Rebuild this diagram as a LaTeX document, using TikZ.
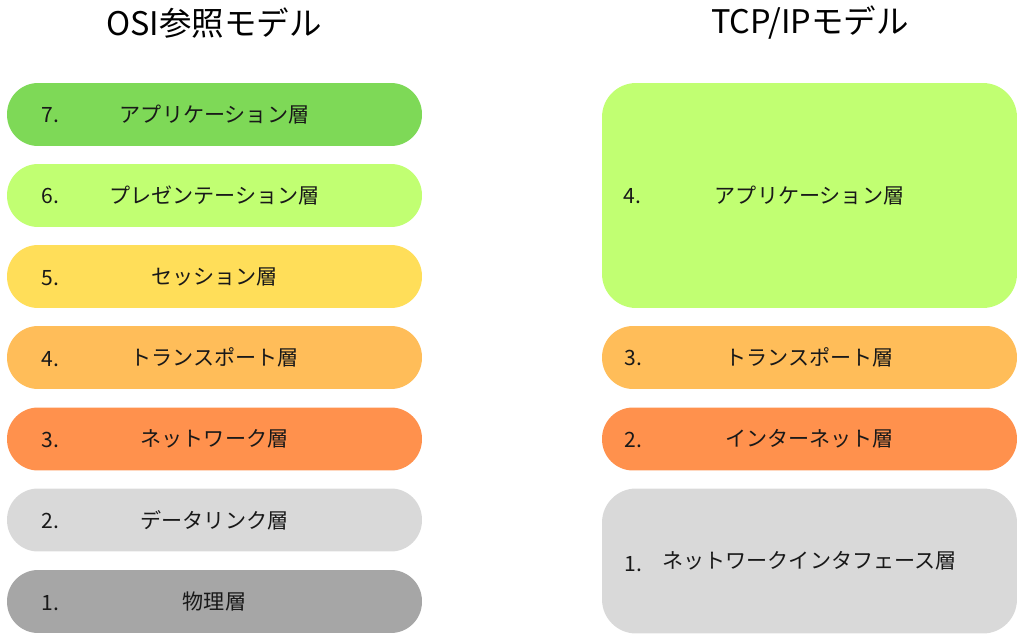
\documentclass[tikz,border=0pt]{standalone}
\usepackage{fontspec}
\setmainfont{Noto Sans CJK JP}
\usepackage{xcolor}
\definecolor{appgreen}{HTML}{7ED957}
\definecolor{limegreen}{HTML}{C1FF72}
\definecolor{sunyellow}{HTML}{FFDE59}
\definecolor{lightorange}{HTML}{FFBD59}
\definecolor{deeporange}{HTML}{FF914D}
\definecolor{lightgrey}{HTML}{D9D9D9}
\definecolor{midgrey}{HTML}{A6A6A6}
\tikzset{layer/.style = {shape=rectangle,rounded corners=0.62cm,minimum width=8.3cm,minimum height=1.26cm,text=black!90,font=\fontsize{12}{14}\selectfont}}
\tikzset{bigcorner/.style = {rounded corners=0.68cm}}
\tikzset{num/.style = {anchor=west,inner sep=0pt,text=black!90,font=\fontsize{12}{14}\selectfont}}
\tikzset{title/.style = {font=\fontsize{18.5}{22}\selectfont}}

\begin{document}
\begin{tikzpicture}[x=0.02cm,y=-0.02cm]
                    \useasboundingbox (0,0) rectangle (1024,638);
                    \node[title] (osi) at (214,23) {OSI参照モデル};
                    \node[title] (tcpip) at (810,23) {TCP/IPモデル};

                    \node[layer, fill=appgreen] (L7) at (214.5,114.5) {アプリケーション層};
                    \node[layer, fill=limegreen] (L6) at (214.5,195.5) {プレゼンテーション層};
                    \node[layer, fill=sunyellow] (L5) at (214.5,276.5) {セッション層};
                    \node[layer, fill=lightorange] (L4) at (214.5,357.5) {トランスポート層};
                    \node[layer, fill=deeporange] (L3) at (214.5,439) {ネットワーク層};
                    \node[layer, fill=lightgrey] (L2) at (214.5,520) {データリンク層};
                    \node[layer, fill=midgrey] (L1) at (214.5,601.5) {物理層};

                    \node[num] (n7) at (41,115) {7.};
                    \node[num] (n6) at (41,196) {6.};
                    \node[num] (n5) at (41,278) {5.};
                    \node[num] (n4) at (41,359) {4.};
                    \node[num] (n3) at (41,440) {3.};
                    \node[num] (n2) at (41,521) {2.};
                    \node[num] (n1) at (41,603) {1.};

                    \node[layer, bigcorner, fill=limegreen, minimum height=4.5cm] (T4) at (809.5,195.5) {アプリケーション層};
                    \node[layer, fill=lightorange] (T3) at (809.5,357.5) {トランスポート層};
                    \node[layer, fill=deeporange] (T2) at (809.5,439) {インターネット層};
                    \node[layer, bigcorner, fill=lightgrey, minimum height=2.9cm] (T1) at (809.5,561) {ネットワークインタフェース層};

                    \node[num] (m4) at (623,196) {4.};
                    \node[num] (m3) at (624,358) {3.};
                    \node[num] (m2) at (624,440) {2.};
                    \node[num] (m1) at (624,564) {1.};
                \end{tikzpicture}
\end{document}
